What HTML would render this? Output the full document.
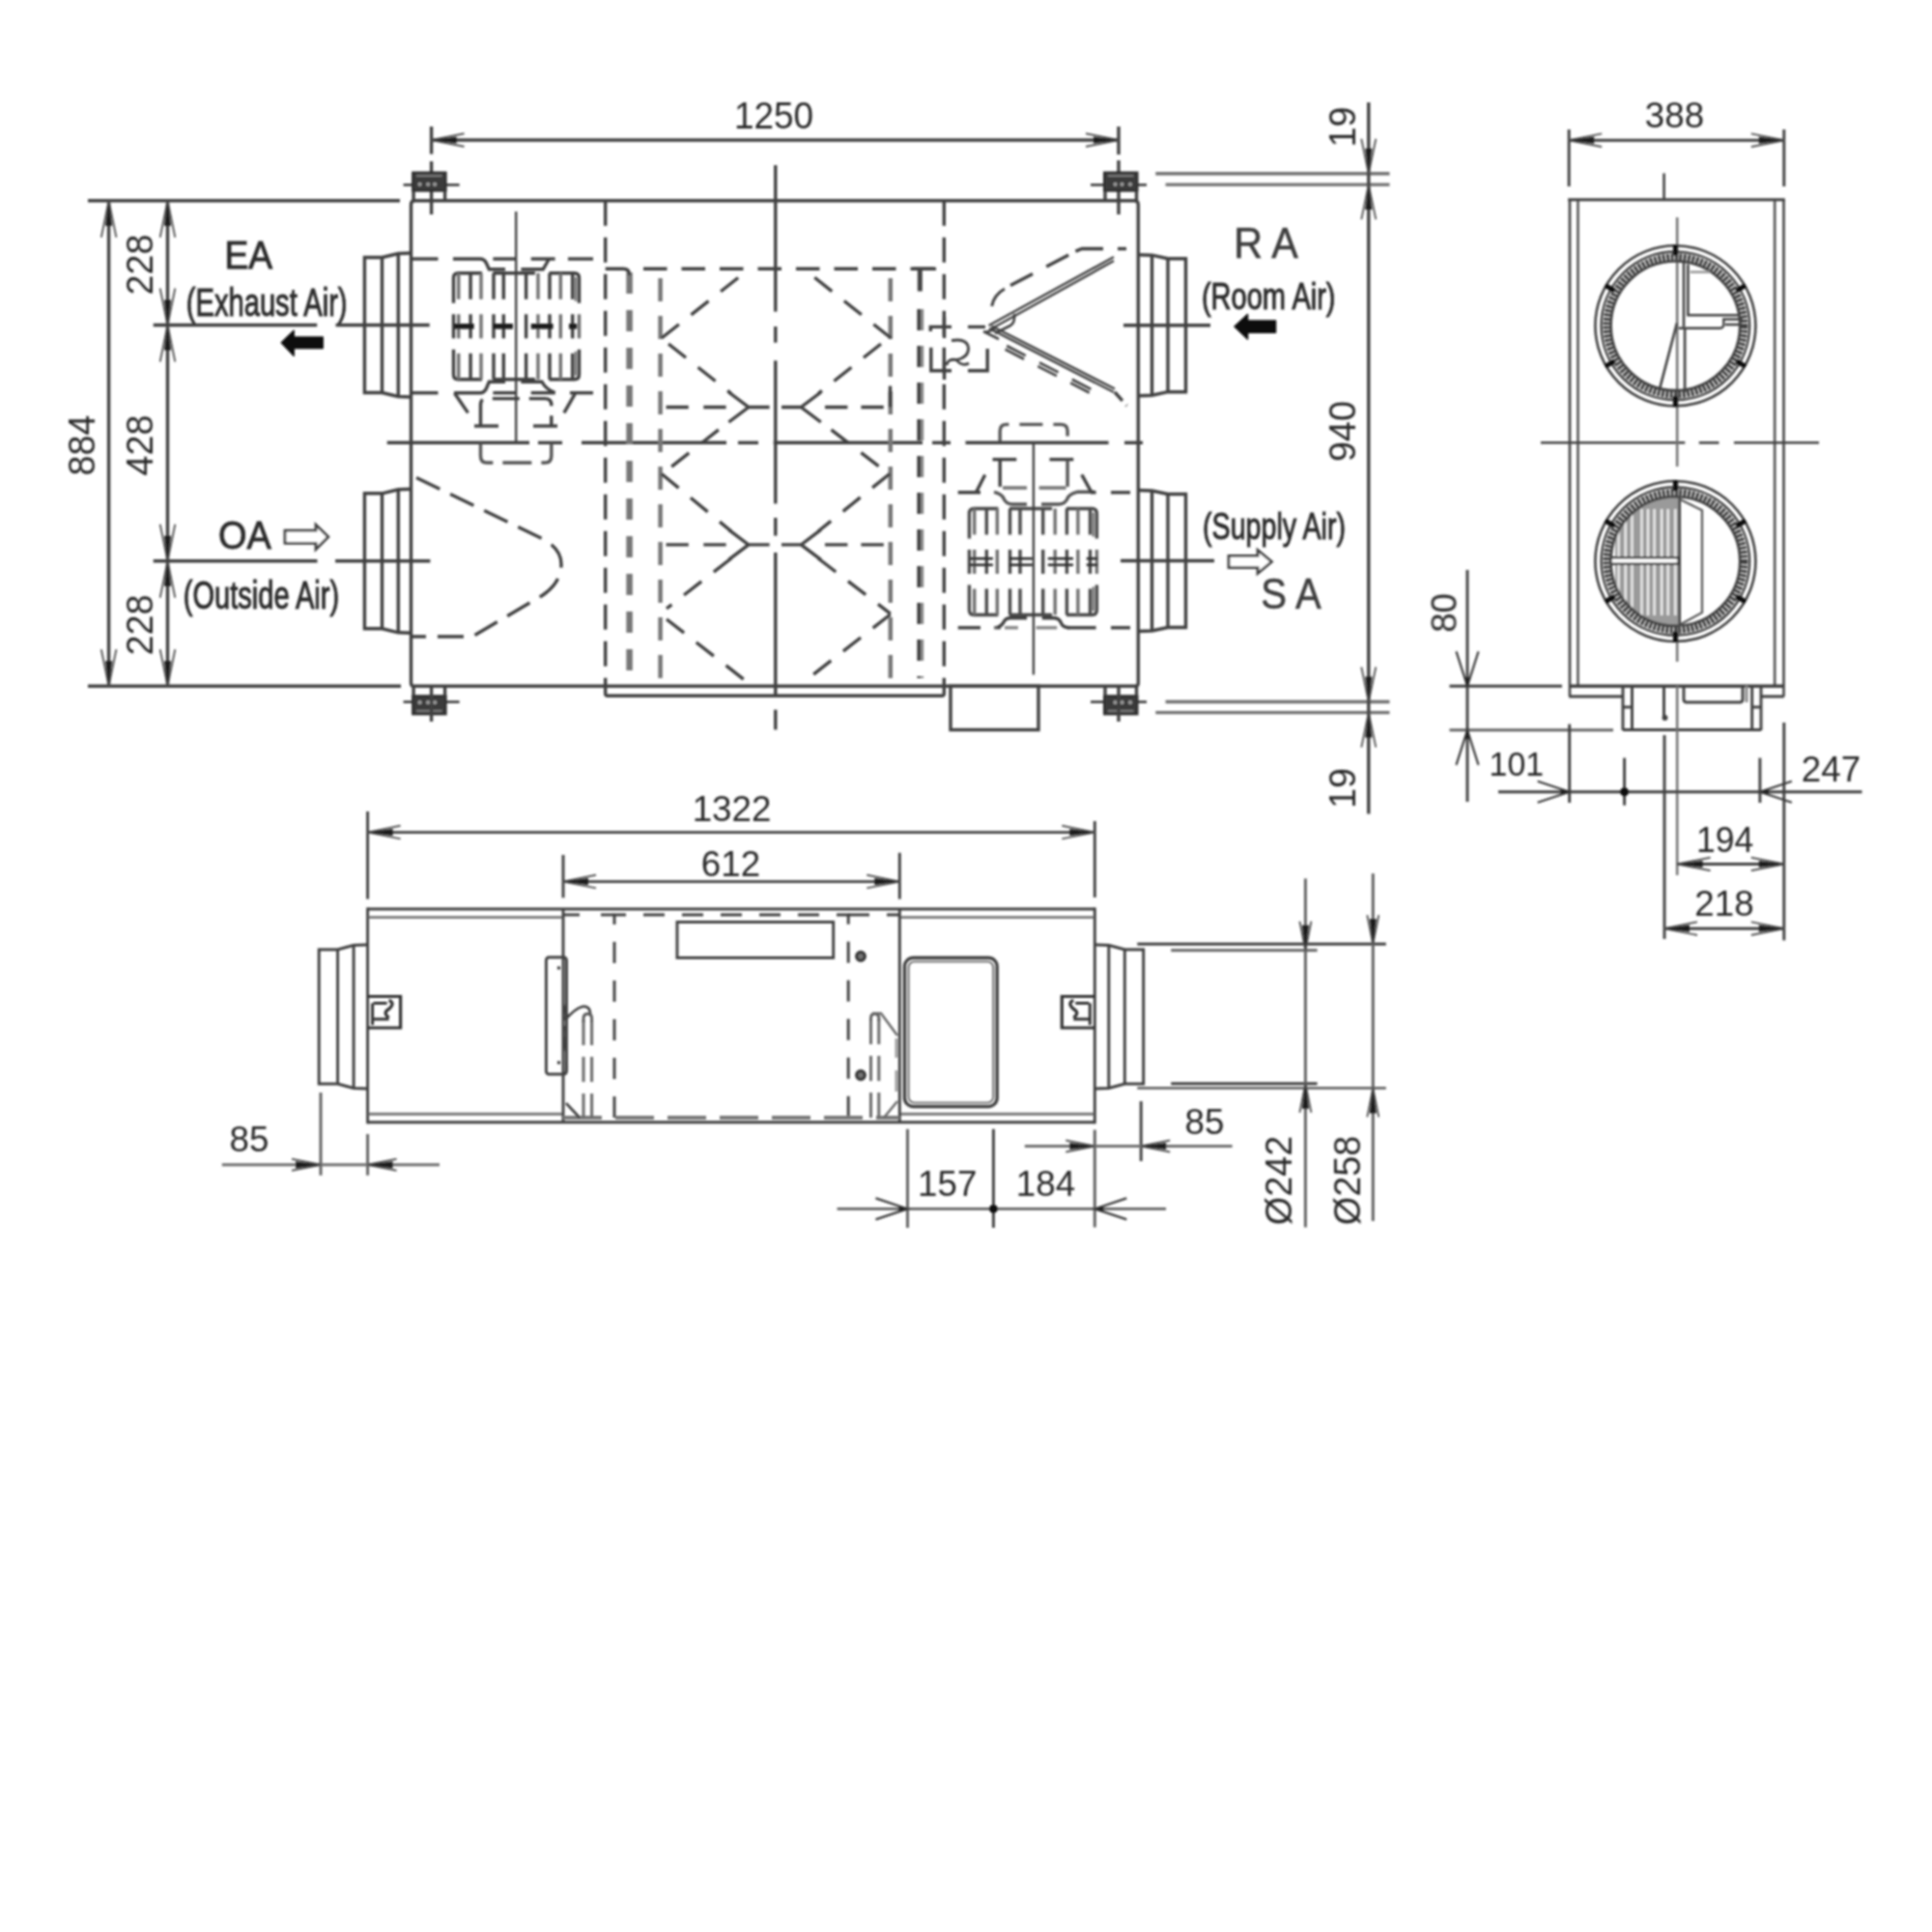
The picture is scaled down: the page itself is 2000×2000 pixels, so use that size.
<!DOCTYPE html>
<html><head><meta charset="utf-8"><title>Dimensions</title>
<style>
html,body{margin:0;padding:0;background:#fff;}
body{width:2000px;height:2000px;overflow:hidden;}
svg{display:block;}
svg text{font-family:"Liberation Sans",sans-serif;stroke:none;}
</style></head><body>
<svg width="2000" height="2000" viewBox="0 0 2000 2000">
<defs><filter id="bl" x="-2%" y="-2%" width="104%" height="104%"><feGaussianBlur stdDeviation="1.3"/></filter></defs>
<rect x="0" y="0" width="2000" height="2000" fill="#ffffff"/>
<g filter="url(#bl)" fill="none" stroke="#404040" stroke-width="3.4" stroke-linecap="butt" stroke-linejoin="miter">
<g>
<path d="M429.5,207.7 H1174.3 Q1178.3,207.7 1178.3,211.7 V707.2 Q1178.3,710.2 1175.3,710.2 H428.5 Q425.5,710.2 425.5,707.2 V211.7 Q425.5,207.7 429.5,207.7 Z"/>
<path d="M626.7,710.2 V718 Q626.7,720.3 629,720.3 H975 Q977.3,720.3 977.3,718 V710.2"/>
<rect x="984.0" y="710.2" width="91.0" height="45.3"/>
<line x1="91.0" y1="207.7" x2="414.0" y2="207.7"/>
<line x1="91.0" y1="710.2" x2="415.0" y2="710.2"/>
<line x1="112.6" y1="207.7" x2="112.6" y2="710.2"/>
<line x1="173.5" y1="207.7" x2="173.5" y2="710.2"/>
<path d="M120.4,245.7 L112.6,207.7 L104.8,245.7" stroke-width="1.9" stroke="#555"/>
<path d="M112.6,207.7 L116.2,233.7 L109.0,233.7 Z" fill="#1c1c1c" stroke="none"/>
<path d="M104.8,672.2 L112.6,710.2 L120.4,672.2" stroke-width="1.9" stroke="#555"/>
<path d="M112.6,710.2 L109.0,684.2 L116.2,684.2 Z" fill="#1c1c1c" stroke="none"/>
<path d="M181.3,245.7 L173.5,207.7 L165.7,245.7" stroke-width="1.9" stroke="#555"/>
<path d="M173.5,207.7 L177.1,233.7 L169.9,233.7 Z" fill="#1c1c1c" stroke="none"/>
<path d="M165.7,672.2 L173.5,710.2 L181.3,672.2" stroke-width="1.9" stroke="#555"/>
<path d="M173.5,710.2 L169.9,684.2 L177.1,684.2 Z" fill="#1c1c1c" stroke="none"/>
<path d="M165.7,298.5 L173.5,336.5 L181.3,298.5" stroke-width="1.9" stroke="#555"/>
<path d="M173.5,336.5 L169.9,310.5 L177.1,310.5 Z" fill="#1c1c1c" stroke="none"/>
<path d="M181.3,374.5 L173.5,336.5 L165.7,374.5" stroke-width="1.9" stroke="#555"/>
<path d="M173.5,336.5 L177.1,362.5 L169.9,362.5 Z" fill="#1c1c1c" stroke="none"/>
<path d="M165.7,542.8 L173.5,580.8 L181.3,542.8" stroke-width="1.9" stroke="#555"/>
<path d="M173.5,580.8 L169.9,554.8 L177.1,554.8 Z" fill="#1c1c1c" stroke="none"/>
<path d="M181.3,618.8 L173.5,580.8 L165.7,618.8" stroke-width="1.9" stroke="#555"/>
<path d="M173.5,580.8 L177.1,606.8 L169.9,606.8 Z" fill="#1c1c1c" stroke="none"/>
<line x1="158.7" y1="336.5" x2="328.2" y2="336.5"/>
<line x1="347.6" y1="336.5" x2="444.7" y2="336.5"/>
<line x1="158.7" y1="580.8" x2="328.5" y2="580.8"/>
<line x1="347.1" y1="580.8" x2="445.4" y2="580.8"/>
<text x="0" y="0" transform="translate(98.0,461.0) rotate(-90) scale(0.98,1)" font-size="38.5" text-anchor="middle" fill="#2a2a2a">884</text>
<text x="0" y="0" transform="translate(158.0,274.0) rotate(-90) scale(0.98,1)" font-size="38.5" text-anchor="middle" fill="#2a2a2a">228</text>
<text x="0" y="0" transform="translate(158.0,461.0) rotate(-90) scale(0.98,1)" font-size="38.5" text-anchor="middle" fill="#2a2a2a">428</text>
<text x="0" y="0" transform="translate(158.0,647.0) rotate(-90) scale(0.98,1)" font-size="38.5" text-anchor="middle" fill="#2a2a2a">228</text>
<line x1="400.7" y1="458.3" x2="548.0" y2="458.3"/>
<line x1="557.0" y1="458.3" x2="582.0" y2="458.3"/>
<line x1="602.0" y1="458.3" x2="752.0" y2="458.3"/>
<line x1="764.0" y1="458.3" x2="785.0" y2="458.3"/>
<line x1="800.7" y1="458.3" x2="955.0" y2="458.3"/>
<line x1="965.0" y1="458.3" x2="984.0" y2="458.3"/>
<line x1="999.5" y1="458.3" x2="1147.6" y2="458.3"/>
<line x1="1164.0" y1="458.3" x2="1183.0" y2="458.3"/>
<line x1="802.8" y1="171.0" x2="802.8" y2="322.6"/>
<line x1="802.8" y1="338.0" x2="802.8" y2="354.7"/>
<line x1="802.8" y1="373.3" x2="802.8" y2="521.4"/>
<line x1="802.8" y1="536.0" x2="802.8" y2="554.6"/>
<line x1="802.8" y1="572.0" x2="802.8" y2="720.0"/>
<line x1="802.8" y1="734.7" x2="802.8" y2="755.4"/>
<line x1="446.6" y1="131.0" x2="446.6" y2="159.5"/>
<line x1="446.6" y1="167.0" x2="446.6" y2="222.0"/>
<line x1="1158.0" y1="131.0" x2="1158.0" y2="160.0"/>
<line x1="1158.0" y1="166.0" x2="1158.0" y2="222.0"/>
<line x1="446.6" y1="145.0" x2="1158.0" y2="145.0"/>
<path d="M480.6,138.2 L446.6,145.0 L480.6,151.8" stroke-width="1.9" stroke="#555"/>
<path d="M446.6,145.0 L472.6,141.4 L472.6,148.6 Z" fill="#1c1c1c" stroke="none"/>
<path d="M1124.0,151.8 L1158.0,145.0 L1124.0,138.2" stroke-width="1.9" stroke="#555"/>
<path d="M1158.0,145.0 L1132.0,148.6 L1132.0,141.4 Z" fill="#1c1c1c" stroke="none"/>
<text x="0" y="0" transform="translate(801.0,132.8) scale(0.96,1)" font-size="38.5" text-anchor="middle" fill="#2a2a2a">1250</text>
<line x1="417.6" y1="191.3" x2="475.6" y2="191.3" stroke-width="2.8" stroke="#444"/>
<rect x="427.1" y="178.5" width="34.5" height="19.1" fill="#3a3a3a" stroke="#2a2a2a" stroke-width="2"/>
<line x1="428.1" y1="197.6" x2="428.1" y2="207.7"/>
<line x1="460.6" y1="197.6" x2="460.6" y2="207.7"/>
<circle cx="434.6" cy="190.8" r="2.1" fill="#9a9a9a" stroke="none"/>
<circle cx="443.1" cy="190.8" r="2.1" fill="#9a9a9a" stroke="none"/>
<circle cx="450.1" cy="190.8" r="2.1" fill="#9a9a9a" stroke="none"/>
<line x1="431.1" y1="182.0" x2="457.6" y2="182.0" stroke-width="2.2" stroke="#777"/>
<line x1="1129.0" y1="191.3" x2="1187.0" y2="191.3" stroke-width="2.8" stroke="#444"/>
<rect x="1143.0" y="178.5" width="34.5" height="19.1" fill="#3a3a3a" stroke="#2a2a2a" stroke-width="2"/>
<line x1="1144.0" y1="197.6" x2="1144.0" y2="207.7"/>
<line x1="1176.5" y1="197.6" x2="1176.5" y2="207.7"/>
<circle cx="1170.0" cy="190.8" r="2.1" fill="#9a9a9a" stroke="none"/>
<circle cx="1161.5" cy="190.8" r="2.1" fill="#9a9a9a" stroke="none"/>
<circle cx="1154.5" cy="190.8" r="2.1" fill="#9a9a9a" stroke="none"/>
<line x1="1147.0" y1="182.0" x2="1173.5" y2="182.0" stroke-width="2.2" stroke="#777"/>
<line x1="417.6" y1="726.7" x2="475.6" y2="726.7" stroke-width="2.8" stroke="#444"/>
<rect x="427.1" y="720.3" width="34.5" height="19.1" fill="#3a3a3a" stroke="#2a2a2a" stroke-width="2"/>
<line x1="428.1" y1="720.3" x2="428.1" y2="710.2"/>
<line x1="460.6" y1="720.3" x2="460.6" y2="710.2"/>
<circle cx="434.6" cy="727.2" r="2.1" fill="#9a9a9a" stroke="none"/>
<circle cx="443.1" cy="727.2" r="2.1" fill="#9a9a9a" stroke="none"/>
<circle cx="450.1" cy="727.2" r="2.1" fill="#9a9a9a" stroke="none"/>
<line x1="431.1" y1="735.9" x2="457.6" y2="735.9" stroke-width="2.2" stroke="#777"/>
<line x1="1129.0" y1="726.7" x2="1187.0" y2="726.7" stroke-width="2.8" stroke="#444"/>
<rect x="1143.0" y="720.3" width="34.5" height="19.1" fill="#3a3a3a" stroke="#2a2a2a" stroke-width="2"/>
<line x1="1144.0" y1="720.3" x2="1144.0" y2="710.2"/>
<line x1="1176.5" y1="720.3" x2="1176.5" y2="710.2"/>
<circle cx="1170.0" cy="727.2" r="2.1" fill="#9a9a9a" stroke="none"/>
<circle cx="1161.5" cy="727.2" r="2.1" fill="#9a9a9a" stroke="none"/>
<circle cx="1154.5" cy="727.2" r="2.1" fill="#9a9a9a" stroke="none"/>
<line x1="1147.0" y1="735.9" x2="1173.5" y2="735.9" stroke-width="2.2" stroke="#777"/>
<line x1="446.6" y1="710.2" x2="446.6" y2="747.0"/>
<line x1="1158.0" y1="710.2" x2="1158.0" y2="747.0"/>
<line x1="626.7" y1="207.7" x2="626.7" y2="710.2" stroke-dasharray="26 12"/>
<line x1="977.3" y1="207.7" x2="977.3" y2="710.2" stroke-dasharray="26 12"/>
<line x1="651.6" y1="282.0" x2="651.6" y2="702.0" stroke-width="6.5" stroke="#777" stroke-dasharray="22 17"/>
<line x1="683.6" y1="288.0" x2="683.6" y2="710.2" stroke-width="4.5" stroke="#777" stroke-dasharray="24 15"/>
<line x1="921.8" y1="288.0" x2="921.8" y2="702.0" stroke-width="4.5" stroke="#777" stroke-dasharray="24 15"/>
<line x1="951.2" y1="320.0" x2="951.2" y2="702.0" stroke-width="3.6" stroke="#3a3a3a" stroke-dasharray="22 16"/>
<line x1="954.6" y1="320.0" x2="954.6" y2="702.0" stroke-width="3.2" stroke="#888" stroke-dasharray="22 16"/>
<path d="M626.7,278.3 H645 Q651.6,278.3 651.6,285"/>
<line x1="666.0" y1="278.3" x2="969.5" y2="278.3" stroke-dasharray="24.5 15"/>
<line x1="945.0" y1="278.3" x2="969.0" y2="278.3"/>
<line x1="952.3" y1="279.5" x2="952.3" y2="301.5" stroke-width="5" stroke="#444"/>
<line x1="684.8" y1="350.0" x2="765.6" y2="286.4" stroke-dasharray="23 16"/>
<line x1="692.0" y1="356.0" x2="757.0" y2="407.5" stroke-dasharray="23 16"/>
<line x1="743.9" y1="444.8" x2="684.5" y2="491.5" stroke-dasharray="23 16"/>
<line x1="684.8" y1="490.5" x2="757.0" y2="550.0" stroke-dasharray="23 16"/>
<line x1="757.0" y1="578.0" x2="690.0" y2="630.0" stroke-dasharray="23 16"/>
<line x1="690.0" y1="641.0" x2="776.0" y2="708.0" stroke-dasharray="23 16"/>
<line x1="922.4" y1="350.0" x2="840.1" y2="284.8" stroke-dasharray="23 16"/>
<line x1="912.0" y1="356.0" x2="847.0" y2="407.5" stroke-dasharray="23 16"/>
<line x1="860.5" y1="444.8" x2="921.0" y2="491.5" stroke-dasharray="23 16"/>
<line x1="921.0" y1="490.5" x2="847.0" y2="550.0" stroke-dasharray="23 16"/>
<line x1="847.0" y1="578.0" x2="921.8" y2="635.3" stroke-dasharray="23 16"/>
<line x1="921.8" y1="636.0" x2="841.0" y2="699.0" stroke-dasharray="23 16"/>
<path d="M754.4,406.0 L774.9,421.5 L754.4,437.0 M774.9,421.5 H796.6"/>
<path d="M849.8,406.0 L829.3,421.5 L849.8,437.0 M829.3,421.5 H809"/>
<line x1="689.5" y1="421.5" x2="753.2" y2="421.5" stroke-dasharray="23.3 15.5"/>
<line x1="854.0" y1="421.5" x2="921.0" y2="421.5" stroke-dasharray="23.4 14"/>
<path d="M754.4,548.4 L774.9,563.9 L754.4,579.4 M774.9,563.9 H796.6"/>
<path d="M849.8,548.4 L829.3,563.9 L849.8,579.4 M829.3,563.9 H809"/>
<line x1="689.5" y1="563.9" x2="753.2" y2="563.9" stroke-dasharray="23.3 15.5"/>
<line x1="854.0" y1="563.9" x2="921.0" y2="563.9" stroke-dasharray="23.4 14"/>
<line x1="921.5" y1="399.5" x2="921.5" y2="421.5"/>
<path d="M425.5,262.0 L412.3,262.5 L395.5,266.5 L377.4,266.5 L377.4,406.5 L395.5,406.5 L412.3,410.5 L425.5,411.0"/>
<line x1="395.5" y1="266.5" x2="395.5" y2="406.5"/>
<line x1="412.3" y1="262.5" x2="412.3" y2="410.5"/>
<path d="M425.5,506.3 L412.3,506.8 L395.5,510.8 L377.4,510.8 L377.4,650.8 L395.5,650.8 L412.3,654.8 L425.5,655.3"/>
<line x1="395.5" y1="510.8" x2="395.5" y2="650.8"/>
<line x1="412.3" y1="506.8" x2="412.3" y2="654.8"/>
<path d="M1178.3,263.7 L1192.5,264.2 L1209.0,267.7 L1227.5,267.7 L1227.5,405.7 L1209.0,405.7 L1192.5,409.2 L1178.3,409.7"/>
<line x1="1209.0" y1="267.7" x2="1209.0" y2="405.7"/>
<line x1="1192.5" y1="264.2" x2="1192.5" y2="409.2"/>
<path d="M1178.3,507.5 L1192.5,508.0 L1209.0,511.5 L1227.5,511.5 L1227.5,649.5 L1209.0,649.5 L1192.5,653.0 L1178.3,653.5"/>
<line x1="1209.0" y1="511.5" x2="1209.0" y2="649.5"/>
<line x1="1192.5" y1="508.0" x2="1192.5" y2="653.0"/>
<line x1="1163.0" y1="336.7" x2="1253.0" y2="336.7"/>
<line x1="1160.0" y1="580.5" x2="1257.0" y2="580.5"/>
<line x1="425.5" y1="268.0" x2="453.5" y2="268.0"/>
<line x1="425.5" y1="406.7" x2="453.5" y2="406.7"/>
<path d="M469,268 H497 Q501.5,268 503.5,272.5 L506.3,278.8 H523"/>
<line x1="510.4" y1="268.0" x2="533.0" y2="268.0"/>
<path d="M539.4,278.8 H562.2 L568.4,268"/>
<line x1="549.7" y1="268.0" x2="574.6" y2="268.0"/>
<line x1="588.0" y1="268.0" x2="614.0" y2="268.0"/>
<path d="M470,406.7 H497 Q501.5,406.7 503.5,402 L506.3,395.3 H523"/>
<line x1="510.4" y1="406.7" x2="533.0" y2="406.7"/>
<path d="M539.4,395.3 H561 Q565,403 574.6,406.7"/>
<line x1="549.7" y1="406.7" x2="574.6" y2="406.7"/>
<line x1="590.0" y1="406.7" x2="614.0" y2="406.7"/>
<line x1="470.5" y1="407.0" x2="484.5" y2="427.4"/>
<line x1="595.3" y1="407.7" x2="583.9" y2="427.4"/>
<path d="M431,494.5 L562,558 Q581,568 581,584 Q581,603 562,616 L489,659 H425.5" stroke-dasharray="27 12"/>
<path d="M469.5,313.8 V287.8 Q469.5,282.8 474.5,282.8 H499.0" stroke="#404040"/>
<path d="M469.5,361.8 V387.8 Q469.5,392.8 474.5,392.8 H499.0" stroke="#404040"/>
<path d="M510.5,282.8 H553.9" stroke="#404040"/>
<path d="M510.5,392.8 H553.9" stroke="#404040"/>
<path d="M568.5,282.8 H594.5 Q599.5,282.8 599.5,287.8 V313.8" stroke="#404040"/>
<path d="M568.5,392.8 H594.5 Q599.5,392.8 599.5,387.8 V361.8" stroke="#404040"/>
<line x1="474.7" y1="282.8" x2="474.7" y2="309.8" stroke="#707070"/>
<line x1="474.7" y1="392.8" x2="474.7" y2="365.8" stroke="#707070"/>
<line x1="474.7" y1="325.3" x2="474.7" y2="350.3" stroke="#707070"/>
<line x1="487.1" y1="282.8" x2="487.1" y2="309.8" stroke="#404040"/>
<line x1="487.1" y1="392.8" x2="487.1" y2="365.8" stroke="#404040"/>
<line x1="487.1" y1="325.3" x2="487.1" y2="350.3" stroke="#404040"/>
<line x1="498.0" y1="282.8" x2="498.0" y2="309.8" stroke="#707070"/>
<line x1="498.0" y1="392.8" x2="498.0" y2="365.8" stroke="#707070"/>
<line x1="498.0" y1="325.3" x2="498.0" y2="350.3" stroke="#707070"/>
<line x1="511.0" y1="282.8" x2="511.0" y2="309.8" stroke="#404040"/>
<line x1="511.0" y1="392.8" x2="511.0" y2="365.8" stroke="#404040"/>
<line x1="511.0" y1="325.3" x2="511.0" y2="350.3" stroke="#404040"/>
<line x1="521.3" y1="282.8" x2="521.3" y2="309.8" stroke="#404040"/>
<line x1="521.3" y1="392.8" x2="521.3" y2="365.8" stroke="#404040"/>
<line x1="521.3" y1="325.3" x2="521.3" y2="350.3" stroke="#404040"/>
<line x1="544.6" y1="282.8" x2="544.6" y2="309.8" stroke="#404040"/>
<line x1="544.6" y1="392.8" x2="544.6" y2="365.8" stroke="#404040"/>
<line x1="544.6" y1="325.3" x2="544.6" y2="350.3" stroke="#404040"/>
<line x1="557.0" y1="282.8" x2="557.0" y2="309.8" stroke="#707070"/>
<line x1="557.0" y1="392.8" x2="557.0" y2="365.8" stroke="#707070"/>
<line x1="557.0" y1="325.3" x2="557.0" y2="350.3" stroke="#707070"/>
<line x1="569.0" y1="282.8" x2="569.0" y2="309.8" stroke="#404040"/>
<line x1="569.0" y1="392.8" x2="569.0" y2="365.8" stroke="#404040"/>
<line x1="569.0" y1="325.3" x2="569.0" y2="350.3" stroke="#404040"/>
<line x1="580.3" y1="282.8" x2="580.3" y2="309.8" stroke="#707070"/>
<line x1="580.3" y1="392.8" x2="580.3" y2="365.8" stroke="#707070"/>
<line x1="580.3" y1="325.3" x2="580.3" y2="350.3" stroke="#707070"/>
<line x1="592.7" y1="282.8" x2="592.7" y2="309.8" stroke="#404040"/>
<line x1="592.7" y1="392.8" x2="592.7" y2="365.8" stroke="#404040"/>
<line x1="592.7" y1="325.3" x2="592.7" y2="350.3" stroke="#404040"/>
<line x1="469.5" y1="325.3" x2="469.5" y2="350.3" stroke="#404040"/>
<line x1="599.5" y1="325.3" x2="599.5" y2="350.3" stroke="#707070"/>
<line x1="596.0" y1="286.8" x2="596.0" y2="311.8" stroke-width="2.4" stroke="#707070"/>
<line x1="596.0" y1="388.8" x2="596.0" y2="363.8" stroke-width="2.4" stroke="#707070"/>
<line x1="470.0" y1="337.8" x2="490.7" y2="337.8" stroke-width="5.5" stroke="#1a1a1a"/>
<line x1="510.5" y1="337.8" x2="531.0" y2="337.8" stroke-width="5.5" stroke="#1a1a1a"/>
<line x1="549.7" y1="337.8" x2="572.5" y2="337.8" stroke-width="5.5" stroke="#1a1a1a"/>
<line x1="589.0" y1="337.8" x2="597.3" y2="337.8" stroke-width="5.5" stroke="#1a1a1a"/>
<path d="M1003.4,557.5 V531.5 Q1003.4,526.5 1008.4,526.5 H1033.4" stroke="#484848"/>
<path d="M1003.4,605.5 V631.5 Q1003.4,636.5 1008.4,636.5 H1033.4" stroke="#484848"/>
<path d="M1045.0,526.5 H1089.1" stroke="#484848"/>
<path d="M1045.0,636.5 H1089.1" stroke="#484848"/>
<path d="M1103.9,526.5 H1130.4 Q1135.4,526.5 1135.4,531.5 V557.5" stroke="#484848"/>
<path d="M1103.9,636.5 H1130.4 Q1135.4,636.5 1135.4,631.5 V605.5" stroke="#484848"/>
<line x1="1008.7" y1="526.5" x2="1008.7" y2="553.5" stroke="#707070"/>
<line x1="1008.7" y1="636.5" x2="1008.7" y2="609.5" stroke="#707070"/>
<line x1="1008.7" y1="569.0" x2="1008.7" y2="594.0" stroke="#707070"/>
<line x1="1021.3" y1="526.5" x2="1021.3" y2="553.5" stroke="#484848"/>
<line x1="1021.3" y1="636.5" x2="1021.3" y2="609.5" stroke="#484848"/>
<line x1="1021.3" y1="569.0" x2="1021.3" y2="594.0" stroke="#484848"/>
<line x1="1032.3" y1="526.5" x2="1032.3" y2="553.5" stroke="#707070"/>
<line x1="1032.3" y1="636.5" x2="1032.3" y2="609.5" stroke="#707070"/>
<line x1="1032.3" y1="569.0" x2="1032.3" y2="594.0" stroke="#707070"/>
<line x1="1045.5" y1="526.5" x2="1045.5" y2="553.5" stroke="#484848"/>
<line x1="1045.5" y1="636.5" x2="1045.5" y2="609.5" stroke="#484848"/>
<line x1="1045.5" y1="569.0" x2="1045.5" y2="594.0" stroke="#484848"/>
<line x1="1056.0" y1="526.5" x2="1056.0" y2="553.5" stroke="#484848"/>
<line x1="1056.0" y1="636.5" x2="1056.0" y2="609.5" stroke="#484848"/>
<line x1="1056.0" y1="569.0" x2="1056.0" y2="594.0" stroke="#484848"/>
<line x1="1079.7" y1="526.5" x2="1079.7" y2="553.5" stroke="#484848"/>
<line x1="1079.7" y1="636.5" x2="1079.7" y2="609.5" stroke="#484848"/>
<line x1="1079.7" y1="569.0" x2="1079.7" y2="594.0" stroke="#484848"/>
<line x1="1092.2" y1="526.5" x2="1092.2" y2="553.5" stroke="#707070"/>
<line x1="1092.2" y1="636.5" x2="1092.2" y2="609.5" stroke="#707070"/>
<line x1="1092.2" y1="569.0" x2="1092.2" y2="594.0" stroke="#707070"/>
<line x1="1104.4" y1="526.5" x2="1104.4" y2="553.5" stroke="#484848"/>
<line x1="1104.4" y1="636.5" x2="1104.4" y2="609.5" stroke="#484848"/>
<line x1="1104.4" y1="569.0" x2="1104.4" y2="594.0" stroke="#484848"/>
<line x1="1115.9" y1="526.5" x2="1115.9" y2="553.5" stroke="#707070"/>
<line x1="1115.9" y1="636.5" x2="1115.9" y2="609.5" stroke="#707070"/>
<line x1="1115.9" y1="569.0" x2="1115.9" y2="594.0" stroke="#707070"/>
<line x1="1128.5" y1="526.5" x2="1128.5" y2="553.5" stroke="#484848"/>
<line x1="1128.5" y1="636.5" x2="1128.5" y2="609.5" stroke="#484848"/>
<line x1="1128.5" y1="569.0" x2="1128.5" y2="594.0" stroke="#484848"/>
<line x1="1003.4" y1="569.0" x2="1003.4" y2="594.0" stroke="#484848"/>
<line x1="1135.4" y1="569.0" x2="1135.4" y2="594.0" stroke="#707070"/>
<line x1="1131.8" y1="530.5" x2="1131.8" y2="555.5" stroke-width="2.4" stroke="#707070"/>
<line x1="1131.8" y1="632.5" x2="1131.8" y2="607.5" stroke-width="2.4" stroke="#707070"/>
<line x1="1003.9" y1="578.2" x2="1027.9" y2="578.2" stroke-width="2.6" stroke="#2a2a2a"/>
<line x1="1003.9" y1="584.8" x2="1027.9" y2="584.8" stroke-width="2.6" stroke="#2a2a2a"/>
<line x1="1045.0" y1="578.2" x2="1068.8" y2="578.2" stroke-width="2.6" stroke="#2a2a2a"/>
<line x1="1045.0" y1="584.8" x2="1068.8" y2="584.8" stroke-width="2.6" stroke="#2a2a2a"/>
<line x1="1084.8" y1="578.2" x2="1111.0" y2="578.2" stroke-width="2.6" stroke="#2a2a2a"/>
<line x1="1084.8" y1="584.8" x2="1111.0" y2="584.8" stroke-width="2.6" stroke="#2a2a2a"/>
<line x1="1124.7" y1="578.2" x2="1136.2" y2="578.2" stroke-width="2.6" stroke="#2a2a2a"/>
<line x1="1124.7" y1="584.8" x2="1136.2" y2="584.8" stroke-width="2.6" stroke="#2a2a2a"/>
<line x1="534.2" y1="219.0" x2="534.2" y2="458.3" stroke-width="2.4"/>
<line x1="1069.9" y1="458.3" x2="1069.9" y2="698.5" stroke-width="2.4"/>
<path d="M497.5,441 V419 Q497.5,412.6 504,412.6 H564 Q570.8,412.6 570.8,419 V441" stroke-dasharray="28 10"/>
<line x1="491.0" y1="441.0" x2="516.0" y2="441.0"/>
<line x1="552.0" y1="441.0" x2="577.0" y2="441.0"/>
<path d="M497.5,459 V472 Q497.5,479 504,479 H564 Q570.8,479 570.8,472 V459" stroke="#555" stroke-dasharray="30 10"/>
<path d="M1035.2,457 V446 Q1035.2,439.4 1042,439.4 H1098 Q1105.1,439.4 1105.1,446 V457" stroke="#555" stroke-dasharray="24 11"/>
<line x1="1027.5" y1="475.6" x2="1052.3" y2="475.6"/>
<line x1="1086.5" y1="475.6" x2="1111.3" y2="475.6"/>
<line x1="1035.2" y1="475.6" x2="1035.2" y2="503.9"/>
<line x1="1105.1" y1="475.6" x2="1105.1" y2="503.9" stroke="#555"/>
<line x1="1038.0" y1="505.0" x2="1063.0" y2="505.0" stroke-width="3.6" stroke="#777"/>
<line x1="1075.6" y1="505.0" x2="1103.5" y2="505.0" stroke-width="3.6" stroke="#777"/>
<path d="M1029,509.3 Q1037,511 1039,516 Q1041,521.5 1048,522 H1063" stroke="#555"/>
<path d="M1133,509.3 H1115 Q1107,511 1105,516 Q1103,521.5 1096,522 H1078" stroke="#555"/>
<path d="M1019.7,491.4 L1010.4,509.8 M991.7,509.8 H1015"/>
<path d="M1119.8,491.4 L1130,509.8 H1134.6"/>
<line x1="1150.0" y1="509.8" x2="1170.0" y2="509.8"/>
<line x1="991.7" y1="649.8" x2="1015.0" y2="649.8"/>
<line x1="1029.0" y1="649.8" x2="1036.0" y2="649.8" stroke="#666"/>
<line x1="1040.0" y1="649.8" x2="1053.9" y2="649.8" stroke="#888"/>
<line x1="1072.5" y1="649.8" x2="1094.2" y2="649.8" stroke="#888"/>
<line x1="1105.0" y1="649.8" x2="1134.6" y2="649.8"/>
<line x1="1150.0" y1="649.8" x2="1170.0" y2="649.8"/>
<path d="M1032,649.8 Q1037,648 1039,644 Q1041,639.7 1046,639.7 H1063"/>
<path d="M1078.7,639.7 H1091 Q1096,639.7 1098,644 Q1100,649.8 1107,649.8"/>
<line x1="1023.5" y1="337.0" x2="1153.0" y2="266.0" stroke-width="2.4"/>
<line x1="1026.0" y1="340.5" x2="1153.0" y2="270.0" stroke-width="2.4"/>
<line x1="1024.0" y1="340.0" x2="1153.0" y2="406.0" stroke-width="2.4"/>
<line x1="1026.5" y1="337.5" x2="1154.0" y2="402.5" stroke-width="2.4"/>
<path d="M1026.7,317 Q1029,305 1040,299" stroke-width="3"/>
<line x1="1046.0" y1="295.5" x2="1113.4" y2="260.1" stroke-dasharray="26 16"/>
<path d="M1113.4,260.1 L1120,257.5 H1142"/>
<line x1="1157.0" y1="257.5" x2="1166.0" y2="257.5"/>
<line x1="1154.0" y1="406.0" x2="1166.4" y2="420.0" stroke-dasharray="12 6"/>
<line x1="1042.2" y1="358.0" x2="1134.0" y2="405.2" stroke-width="2.6" stroke-dasharray="22 16"/>
<line x1="1040.5" y1="361.7" x2="1132.0" y2="408.7" stroke-width="2.6" stroke-dasharray="22 16"/>
<path d="M1050,324.8 Q1051,334 1046,337 L1030,345" stroke-width="2.6"/>
<path d="M1018,343 L1034,351" stroke-width="2.6"/>
<path d="M963.3,343 V338.4 H985 M1002,338.4 H1020"/>
<line x1="977.5" y1="328.0" x2="977.5" y2="350.0"/>
<path d="M963.8,359.8 V383.7 H985 M1002,383.7 H1022.2 V361"/>
<line x1="977.5" y1="374.0" x2="977.5" y2="393.0"/>
<path d="M985,352.5 Q1001,350 1002.5,360 Q1003,370 990,372.5 Q981,371 980,378 M990,372.5 Q996,380 1003,376" stroke-width="2.8"/>
<line x1="1020.0" y1="344.0" x2="1030.0" y2="341.0" stroke-width="2.4"/>
<line x1="1196.3" y1="179.7" x2="1438.5" y2="179.7" stroke="#707070"/>
<line x1="1206.6" y1="191.1" x2="1438.5" y2="191.1" stroke="#707070"/>
<line x1="1206.6" y1="726.5" x2="1438.5" y2="726.5" stroke="#707070"/>
<line x1="1196.3" y1="737.6" x2="1438.5" y2="737.6" stroke="#707070"/>
<line x1="1416.8" y1="106.0" x2="1416.8" y2="842.5"/>
<path d="M1409.3,143.7 L1416.8,179.7 L1424.3,143.7" stroke-width="1.9" stroke="#555"/>
<path d="M1416.8,179.7 L1413.2,153.7 L1420.4,153.7 Z" fill="#1c1c1c" stroke="none"/>
<path d="M1424.3,227.1 L1416.8,191.1 L1409.3,227.1" stroke-width="1.9" stroke="#555"/>
<path d="M1416.8,191.1 L1420.4,217.1 L1413.2,217.1 Z" fill="#1c1c1c" stroke="none"/>
<path d="M1409.3,690.5 L1416.8,726.5 L1424.3,690.5" stroke-width="1.9" stroke="#555"/>
<path d="M1416.8,726.5 L1413.2,700.5 L1420.4,700.5 Z" fill="#1c1c1c" stroke="none"/>
<path d="M1424.3,773.6 L1416.8,737.6 L1409.3,773.6" stroke-width="1.9" stroke="#555"/>
<path d="M1416.8,737.6 L1420.4,763.6 L1413.2,763.6 Z" fill="#1c1c1c" stroke="none"/>
<text x="0" y="0" transform="translate(1403.0,131.6) rotate(-90) scale(0.98,1)" font-size="38.5" text-anchor="middle" fill="#2a2a2a">19</text>
<text x="0" y="0" transform="translate(1403.0,446.5) rotate(-90) scale(0.98,1)" font-size="38.5" text-anchor="middle" fill="#2a2a2a">940</text>
<text x="0" y="0" transform="translate(1403.0,816.0) rotate(-90) scale(0.98,1)" font-size="38.5" text-anchor="middle" fill="#2a2a2a">19</text>
<text x="0" y="0" transform="translate(257.3,277.6) scale(0.92,1)" font-size="40.5" text-anchor="middle" fill="#2a2a2a" stroke="#2a2a2a" stroke-width="0.9" style="stroke:#2a2a2a">EA</text>
<text x="0" y="0" transform="translate(276.2,326.8) scale(0.719,1)" font-size="40.5" text-anchor="middle" fill="#2a2a2a" stroke="#2a2a2a" stroke-width="1.0" style="stroke:#2a2a2a">(Exhaust Air)</text>
<path d="M334.2,349 H304.2 V342.3 L291.3,354.7 L304.2,368.2 V360.4 H334.2 Z" fill="#0a0a0a" stroke="#0a0a0a" stroke-width="1.5" stroke-linejoin="round"/>
<text x="0" y="0" transform="translate(253.5,568.3) scale(0.95,1)" font-size="40" text-anchor="middle" fill="#2a2a2a" stroke="#2a2a2a" stroke-width="0.8" style="stroke:#2a2a2a">OA</text>
<path d="M295,549.2 H327 V543.3 L339.8,555.7 L327,568.5 V562.4 H295 Z" fill="#fff" stroke-width="2.8"/>
<text x="0" y="0" transform="translate(270.5,630.0) scale(0.726,1)" font-size="40" text-anchor="middle" fill="#2a2a2a" stroke="#2a2a2a" stroke-width="1.0" style="stroke:#2a2a2a">(Outside Air)</text>
<text x="0" y="0" transform="translate(1310.5,266.7) scale(0.92,1)" font-size="45" text-anchor="middle" fill="#3c3c3c" stroke="#3c3c3c" stroke-width="0.55" style="stroke:#3c3c3c">R A</text>
<text x="0" y="0" transform="translate(1313.2,319.5) scale(0.754,1)" font-size="38.5" text-anchor="middle" fill="#2a2a2a" stroke="#2a2a2a" stroke-width="1.0" style="stroke:#2a2a2a">(Room Air)</text>
<path d="M1320.5,332 H1291.5 V325.5 L1278,338 L1291.5,351 V344.3 H1320.5 Z" fill="#0a0a0a" stroke="#0a0a0a" stroke-width="1.5" stroke-linejoin="round"/>
<text x="0" y="0" transform="translate(1319.0,557.7) scale(0.725,1)" font-size="39.5" text-anchor="middle" fill="#2a2a2a" stroke="#2a2a2a" stroke-width="1.0" style="stroke:#2a2a2a">(Supply Air)</text>
<path d="M1272,575.3 H1302 V569.5 L1316.4,581.5 L1302,593.5 V587.7 H1272 Z" fill="#fff" stroke-width="2.8"/>
<text x="0" y="0" transform="translate(1336.5,630.1) scale(0.89,1)" font-size="45" text-anchor="middle" fill="#3c3c3c" stroke="#3c3c3c" stroke-width="0.55" style="stroke:#3c3c3c">S A</text>
</g>
<g stroke-width="2.9" stroke="#404040">
<line x1="1623.2" y1="206.7" x2="1847.8" y2="206.7" stroke-width="3"/>
<line x1="1625.0" y1="206.7" x2="1625.0" y2="721.0" stroke-width="2.6" stroke="#444"/>
<line x1="1846.5" y1="206.7" x2="1846.5" y2="721.0" stroke-width="2.6" stroke="#444"/>
<line x1="1633.5" y1="208.0" x2="1633.5" y2="710.0" stroke-width="2.6" stroke="#555"/>
<line x1="1837.2" y1="208.0" x2="1837.2" y2="710.0" stroke-width="2.6" stroke="#555"/>
<line x1="1624.2" y1="710.2" x2="1846.8" y2="710.2" stroke-width="3.4"/>
<path d="M1624.2,721 H1680 M1823,721 H1846.8"/>
<path d="M1680,710 V756 M1689.5,710 V756 M1813.7,710 V756 M1823,710 V756"/>
<line x1="1680.0" y1="755.5" x2="1823.0" y2="755.5"/>
<path d="M1743,710 V724 Q1743,727 1746,727 H1801 Q1804,727 1804,724 V710"/>
<line x1="1808.0" y1="710.0" x2="1808.0" y2="727.0" stroke="#888"/>
<line x1="1722.5" y1="710.0" x2="1722.5" y2="742.0"/>
<circle cx="1723.5" cy="743.0" r="1.5" fill="#333"/>
<line x1="1680.0" y1="732.0" x2="1689.5" y2="732.0"/>
<line x1="1813.7" y1="732.0" x2="1823.0" y2="732.0"/>
<line x1="1722.6" y1="179.4" x2="1722.6" y2="206.7" stroke-width="2.6"/>
<line x1="1624.2" y1="134.0" x2="1624.2" y2="193.0"/>
<line x1="1846.8" y1="134.0" x2="1846.8" y2="193.0"/>
<line x1="1624.2" y1="145.2" x2="1846.8" y2="145.2"/>
<path d="M1658.2,138.4 L1624.2,145.2 L1658.2,152.0" stroke-width="1.9" stroke="#555"/>
<path d="M1624.2,145.2 L1650.2,141.6 L1650.2,148.8 Z" fill="#1c1c1c" stroke="none"/>
<path d="M1812.8,152.0 L1846.8,145.2 L1812.8,138.4" stroke-width="1.9" stroke="#555"/>
<path d="M1846.8,145.2 L1820.8,148.8 L1820.8,141.6 Z" fill="#1c1c1c" stroke="none"/>
<text x="0" y="0" transform="translate(1733.5,132.0) scale(0.98,1)" font-size="37.5" text-anchor="middle" fill="#2a2a2a">388</text>
<line x1="1595.0" y1="458.3" x2="1744.3" y2="458.3" stroke-width="2.6"/>
<line x1="1758.8" y1="458.3" x2="1779.5" y2="458.3" stroke-width="2.6"/>
<line x1="1795.0" y1="458.3" x2="1883.0" y2="458.3" stroke-width="2.6"/>
<line x1="1736.2" y1="225.0" x2="1736.2" y2="483.0" stroke-width="2.5" stroke="#707070"/>
<line x1="1736.2" y1="497.0" x2="1736.2" y2="664.0" stroke-width="2.5" stroke="#707070"/>
<line x1="1736.2" y1="663.0" x2="1736.2" y2="685.0" stroke-width="2.5" stroke="#707070"/>
<line x1="1736.2" y1="710.0" x2="1736.2" y2="906.0" stroke-width="2.5" stroke="#707070"/>
<clipPath id="fc"><circle cx="1734.4" cy="581" r="66"/></clipPath>
<g clip-path="url(#fc)">
<rect x="1672.0" y="500.0" width="66.7" height="160.0" fill="#9a9a9a" stroke="none"/>
<line x1="1675.6" y1="527.0" x2="1675.6" y2="637.0" stroke-width="2.2" stroke="#f4f4f4"/>
<line x1="1682.7" y1="527.0" x2="1682.7" y2="637.0" stroke-width="2.2" stroke="#f4f4f4"/>
<line x1="1689.5" y1="527.0" x2="1689.5" y2="637.0" stroke-width="2.2" stroke="#f4f4f4"/>
<line x1="1699.5" y1="527.0" x2="1699.5" y2="637.0" stroke-width="2.2" stroke="#f4f4f4"/>
<line x1="1706.0" y1="527.0" x2="1706.0" y2="637.0" stroke-width="2.2" stroke="#f4f4f4"/>
<line x1="1712.6" y1="527.0" x2="1712.6" y2="637.0" stroke-width="2.2" stroke="#f4f4f4"/>
<line x1="1720.2" y1="527.0" x2="1720.2" y2="637.0" stroke-width="2.2" stroke="#f4f4f4"/>
<line x1="1726.7" y1="527.0" x2="1726.7" y2="637.0" stroke-width="2.2" stroke="#f4f4f4"/>
<line x1="1734.3" y1="527.0" x2="1734.3" y2="637.0" stroke-width="2.2" stroke="#f4f4f4"/>
<rect x="1660.0" y="577.2" width="77.5" height="6.6" fill="#fff" stroke="#333" stroke-width="2.4"/>
</g>
<line x1="1738.7" y1="514.0" x2="1738.7" y2="648.0" stroke-width="2.6"/>
<path d="M1738.7,516.8 L1762,528.3 V634.2 L1738.7,646.7" stroke-width="2.2" stroke="#555"/>
<circle cx="1734.4" cy="337.3" r="83.0" stroke-width="2.6"/>
<circle cx="1734.4" cy="337.3" r="76.8" stroke-width="2.4"/>
<circle cx="1734.4" cy="337.3" r="71.2" stroke-width="7.4" stroke="#404040" stroke-dasharray="3.1 1.3"/>
<circle cx="1734.4" cy="337.3" r="66.8" stroke-width="2.6"/>
<line x1="1734.4" y1="264.3" x2="1734.4" y2="253.3" stroke-width="5" stroke="#101010"/>
<line x1="1734.4" y1="410.3" x2="1734.4" y2="421.3" stroke-width="5" stroke="#101010"/>
<line x1="1797.6" y1="300.8" x2="1807.1" y2="295.3" stroke-width="5" stroke="#101010"/>
<line x1="1671.2" y1="300.8" x2="1661.7" y2="295.3" stroke-width="5" stroke="#101010"/>
<line x1="1671.2" y1="373.8" x2="1661.7" y2="379.3" stroke-width="5" stroke="#101010"/>
<line x1="1797.6" y1="373.8" x2="1807.1" y2="379.3" stroke-width="5" stroke="#101010"/>
<circle cx="1734.4" cy="581.0" r="83.0" stroke-width="2.6"/>
<circle cx="1734.4" cy="581.0" r="76.8" stroke-width="2.4"/>
<circle cx="1734.4" cy="581.0" r="71.2" stroke-width="7.4" stroke="#404040" stroke-dasharray="3.1 1.3"/>
<circle cx="1734.4" cy="581.0" r="66.8" stroke-width="2.6"/>
<line x1="1734.4" y1="508.0" x2="1734.4" y2="497.0" stroke-width="5" stroke="#101010"/>
<line x1="1734.4" y1="654.0" x2="1734.4" y2="665.0" stroke-width="5" stroke="#101010"/>
<line x1="1797.6" y1="544.5" x2="1807.1" y2="539.0" stroke-width="5" stroke="#101010"/>
<line x1="1671.2" y1="544.5" x2="1661.7" y2="539.0" stroke-width="5" stroke="#101010"/>
<line x1="1671.2" y1="617.5" x2="1661.7" y2="623.0" stroke-width="5" stroke="#101010"/>
<line x1="1797.6" y1="617.5" x2="1807.1" y2="623.0" stroke-width="5" stroke="#101010"/>
<path d="M1743,269 V338.7 M1747.4,273.5 V326.2 H1799.6" stroke-width="2.6"/>
<line x1="1749.6" y1="281.6" x2="1770.2" y2="281.6" stroke-width="2.6" stroke="#999"/>
<path d="M1737.6,339.8 H1780 Q1783.5,339.8 1784.3,337 V330.5 H1803.9 M1786,336 H1803.9" stroke-width="2.4"/>
<line x1="1736.0" y1="334.3" x2="1718.0" y2="402.8" stroke-width="2.6"/>
<line x1="1744.1" y1="339.8" x2="1744.1" y2="406.1" stroke-width="2.6"/>
<line x1="1500.5" y1="710.3" x2="1617.0" y2="710.3"/>
<line x1="1500.5" y1="755.8" x2="1670.0" y2="755.8" stroke="#666"/>
<line x1="1519.0" y1="590.0" x2="1519.0" y2="830.0"/>
<path d="M1507.5,674.3 L1519.0,710.3 L1530.5,674.3" stroke-width="2.2" stroke="#3a3a3a"/>
<path d="M1519.0,710.3 L1516.8,701.3 L1521.2,701.3 Z" fill="#1c1c1c" stroke="none"/>
<path d="M1530.5,791.8 L1519.0,755.8 L1507.5,791.8" stroke-width="2.2" stroke="#3a3a3a"/>
<path d="M1519.0,755.8 L1521.2,764.8 L1516.8,764.8 Z" fill="#1c1c1c" stroke="none"/>
<text x="0" y="0" transform="translate(1507.5,634.5) rotate(-90) scale(0.98,1)" font-size="37.5" text-anchor="middle" fill="#2a2a2a">80</text>
<line x1="1551.0" y1="819.8" x2="1927.5" y2="819.8"/>
<line x1="1624.7" y1="749.6" x2="1624.7" y2="831.0"/>
<line x1="1681.6" y1="784.6" x2="1681.6" y2="833.7"/>
<circle cx="1681.6" cy="819.8" r="4.5" fill="#111" stroke="none"/>
<line x1="1723.0" y1="761.0" x2="1723.0" y2="972.0"/>
<line x1="1736.6" y1="906.0" x2="1736.6" y2="906.0"/>
<line x1="1821.9" y1="784.6" x2="1821.9" y2="831.0"/>
<line x1="1846.8" y1="748.0" x2="1846.8" y2="973.5"/>
<path d="M1591.7,830.8 L1624.7,819.8 L1591.7,808.8" stroke-width="2.2" stroke="#3a3a3a"/>
<path d="M1624.7,819.8 L1615.7,822.0 L1615.7,817.6 Z" fill="#1c1c1c" stroke="none"/>
<path d="M1854.9,808.8 L1821.9,819.8 L1854.9,830.8" stroke-width="2.2" stroke="#3a3a3a"/>
<path d="M1821.9,819.8 L1830.9,817.6 L1830.9,822.0 Z" fill="#1c1c1c" stroke="none"/>
<text x="0" y="0" transform="translate(1569.9,803.2) scale(0.97,1)" font-size="35" text-anchor="middle" fill="#2a2a2a">101</text>
<text x="0" y="0" transform="translate(1895.5,808.8) scale(0.98,1)" font-size="37.5" text-anchor="middle" fill="#2a2a2a">247</text>
<line x1="1736.6" y1="894.5" x2="1846.8" y2="894.5"/>
<path d="M1770.6,887.7 L1736.6,894.5 L1770.6,901.3" stroke-width="1.9" stroke="#555"/>
<path d="M1736.6,894.5 L1762.6,890.9 L1762.6,898.1 Z" fill="#1c1c1c" stroke="none"/>
<path d="M1812.8,901.3 L1846.8,894.5 L1812.8,887.7" stroke-width="1.9" stroke="#555"/>
<path d="M1846.8,894.5 L1820.8,898.1 L1820.8,890.9 Z" fill="#1c1c1c" stroke="none"/>
<text x="0" y="0" transform="translate(1785.5,882.3) scale(0.96,1)" font-size="37" text-anchor="middle" fill="#2a2a2a">194</text>
<line x1="1723.0" y1="961.2" x2="1846.8" y2="961.2"/>
<path d="M1757.0,954.4 L1723.0,961.2 L1757.0,968.0" stroke-width="1.9" stroke="#555"/>
<path d="M1723.0,961.2 L1749.0,957.6 L1749.0,964.8 Z" fill="#1c1c1c" stroke="none"/>
<path d="M1812.8,968.0 L1846.8,961.2 L1812.8,954.4" stroke-width="1.9" stroke="#555"/>
<path d="M1846.8,961.2 L1820.8,964.8 L1820.8,957.6 Z" fill="#1c1c1c" stroke="none"/>
<text x="0" y="0" transform="translate(1785.0,948.3) scale(0.98,1)" font-size="37.5" text-anchor="middle" fill="#2a2a2a">218</text>
</g>
<g stroke-width="2.9" stroke="#404040">
<line x1="380.6" y1="941.0" x2="1133.3" y2="941.0"/>
<line x1="380.6" y1="1161.8" x2="1133.3" y2="1161.8"/>
<line x1="380.6" y1="939.5" x2="380.6" y2="1163.3"/>
<line x1="1133.3" y1="939.5" x2="1133.3" y2="1163.3"/>
<line x1="381.6" y1="949.6" x2="583.0" y2="949.6" stroke="#777"/>
<line x1="381.6" y1="1153.3" x2="583.0" y2="1153.3" stroke="#777"/>
<line x1="931.3" y1="949.6" x2="1132.3" y2="949.6" stroke="#777"/>
<line x1="931.3" y1="1153.3" x2="1132.3" y2="1153.3" stroke="#777"/>
<line x1="583.0" y1="941.0" x2="583.0" y2="1161.8"/>
<line x1="931.3" y1="941.0" x2="931.3" y2="1161.8"/>
<path d="M380.6,978.0 L366.1,978.5 L349.6,983.0 L330.2,983.0 L330.2,1122.0 L349.6,1122.0 L366.1,1126.5 L380.6,1127.0"/>
<line x1="366.1" y1="978.5" x2="366.1" y2="1126.5"/>
<line x1="349.6" y1="983.0" x2="349.6" y2="1122.0"/>
<path d="M1133.3,978.0 L1147.8,978.5 L1164.3,983.0 L1183.7,983.0 L1183.7,1122.0 L1164.3,1122.0 L1147.8,1126.5 L1133.3,1127.0"/>
<line x1="1147.8" y1="978.5" x2="1147.8" y2="1126.5"/>
<line x1="1164.3" y1="983.0" x2="1164.3" y2="1122.0"/>
<path d="M380.6,1031.5 H414.6 V1064 H380.6" stroke-width="3.2" stroke="#333"/>
<path d="M386.6,1038.5 H400.6 M386.6,1055 H402.6 M402.6,1035.5 q7,3 0,9 q-7,4 0,9" stroke-width="3.2" stroke="#333"/>
<line x1="385.6" y1="1038.5" x2="385.6" y2="1061.0" stroke-width="3" stroke="#333"/>
<path d="M1133.3,1031.5 H1099.3 V1064 H1133.3" stroke-width="3.2" stroke="#333"/>
<path d="M1127.3,1038.5 H1113.3 M1127.3,1055 H1111.3 M1111.3,1035.5 q-7,3 0,9 q7,4 0,9" stroke-width="3.2" stroke="#333"/>
<line x1="1128.3" y1="1038.5" x2="1128.3" y2="1061.0" stroke-width="3" stroke="#333"/>
<rect x="565.4" y="991.0" width="21.1" height="121.0" rx="3"/>
<circle cx="578.5" cy="1002.0" r="1.8" fill="#333" stroke="none"/>
<circle cx="578.5" cy="1100.0" r="1.8" fill="#333" stroke="none"/>
<path d="M583,1040 q4,8 2,16 q10,-12 18,-14 q8,-1 8,8 M584,1062 q-2,14 2,26 M586,1100 q2,6 -1,12" stroke-width="2.6"/>
<path d="M636,1157 V947 H878.2 V1157" stroke-dasharray="22 18"/>
<line x1="583.0" y1="1157.0" x2="931.0" y2="1157.0" stroke-width="4" stroke="#777" stroke-dasharray="40 14"/>
<line x1="583.0" y1="947.0" x2="600.0" y2="947.0"/>
<line x1="622.0" y1="947.0" x2="636.0" y2="947.0"/>
<line x1="878.0" y1="947.0" x2="931.0" y2="947.0" stroke-dasharray="22 18"/>
<line x1="604.0" y1="1056.0" x2="604.0" y2="1157.0" stroke-width="3" stroke="#6a6a6a" stroke-dasharray="26 12"/>
<line x1="612.6" y1="1056.0" x2="612.6" y2="1157.0" stroke-width="3" stroke="#6a6a6a" stroke-dasharray="26 12"/>
<path d="M604,1058 V1054.5 Q604,1049.5 608.3,1049.5 Q612.6,1049.5 612.6,1054.5 V1058" stroke-width="2.8" stroke="#5a5a5a"/>
<line x1="901.5" y1="1055.0" x2="901.5" y2="1157.0" stroke-width="3" stroke="#6a6a6a" stroke-dasharray="26 12"/>
<line x1="909.8" y1="1055.0" x2="909.8" y2="1157.0" stroke-width="3" stroke="#6a6a6a" stroke-dasharray="26 12"/>
<path d="M901.5,1057 V1054 Q901.5,1049.5 905.6,1049.5 Q909.8,1049.5 909.8,1054 V1057" stroke-width="2.8" stroke="#5a5a5a"/>
<path d="M586,1142 L600,1157" stroke-width="2.6"/>
<path d="M903,1049 H912 L929,1072 M929,1140 L915,1157" stroke-width="2.4" stroke="#666"/>
<line x1="928.0" y1="1075.0" x2="928.0" y2="1095.0" stroke="#999"/>
<line x1="928.0" y1="1108.0" x2="928.0" y2="1130.0" stroke="#999"/>
<rect x="701.0" y="954.5" width="161.7" height="37.0"/>
<circle cx="891.0" cy="990.0" r="4.3" stroke-width="3.2" fill="#777" stroke="#333"/>
<circle cx="891.0" cy="1113.0" r="4.3" stroke-width="3.2" fill="#777" stroke="#333"/>
<rect x="936.4" y="991.5" width="95.8" height="154.0" rx="9" stroke-width="3.4"/>
<rect x="940.5" y="995.5" width="87.7" height="146.0" rx="6" stroke-width="2.2" stroke="#777"/>
<line x1="380.6" y1="840.0" x2="380.6" y2="930.7"/>
<line x1="1133.3" y1="850.0" x2="1133.3" y2="929.0"/>
<line x1="380.6" y1="861.6" x2="1133.3" y2="861.6"/>
<path d="M414.6,854.8 L380.6,861.6 L414.6,868.4" stroke-width="1.9" stroke="#555"/>
<path d="M380.6,861.6 L406.6,858.0 L406.6,865.2 Z" fill="#1c1c1c" stroke="none"/>
<path d="M1099.3,868.4 L1133.3,861.6 L1099.3,854.8" stroke-width="1.9" stroke="#555"/>
<path d="M1133.3,861.6 L1107.3,865.2 L1107.3,858.0 Z" fill="#1c1c1c" stroke="none"/>
<text x="0" y="0" transform="translate(757.5,850.0) scale(0.98,1)" font-size="37.5" text-anchor="middle" fill="#2a2a2a">1322</text>
<line x1="583.0" y1="885.0" x2="583.0" y2="929.4"/>
<line x1="931.3" y1="882.8" x2="931.3" y2="930.7"/>
<line x1="583.0" y1="912.6" x2="931.3" y2="912.6"/>
<path d="M617.0,905.8 L583.0,912.6 L617.0,919.4" stroke-width="1.9" stroke="#555"/>
<path d="M583.0,912.6 L609.0,909.0 L609.0,916.2 Z" fill="#1c1c1c" stroke="none"/>
<path d="M897.3,919.4 L931.3,912.6 L897.3,905.8" stroke-width="1.9" stroke="#555"/>
<path d="M931.3,912.6 L905.3,916.2 L905.3,909.0 Z" fill="#1c1c1c" stroke="none"/>
<text x="0" y="0" transform="translate(756.5,906.5) scale(0.98,1)" font-size="37.5" text-anchor="middle" fill="#2a2a2a">612</text>
<line x1="332.0" y1="1131.0" x2="332.0" y2="1216.7" stroke="#606060"/>
<line x1="380.6" y1="1174.0" x2="380.6" y2="1216.7" stroke="#606060"/>
<line x1="229.8" y1="1205.8" x2="455.0" y2="1205.8" stroke="#707070"/>
<path d="M302.0,1211.8 L332.0,1205.8 L302.0,1199.8" stroke-width="1.9" stroke="#555"/>
<path d="M332.0,1205.8 L306.0,1209.4 L306.0,1202.2 Z" fill="#1c1c1c" stroke="none"/>
<path d="M410.6,1199.8 L380.6,1205.8 L410.6,1211.8" stroke-width="1.9" stroke="#555"/>
<path d="M380.6,1205.8 L406.6,1202.2 L406.6,1209.4 Z" fill="#1c1c1c" stroke="none"/>
<text x="0" y="0" transform="translate(258.0,1192.0) scale(0.98,1)" font-size="37.5" text-anchor="middle" fill="#2a2a2a">85</text>
<line x1="939.5" y1="1168.8" x2="939.5" y2="1271.0" stroke="#606060"/>
<line x1="1028.4" y1="1168.8" x2="1028.4" y2="1271.0"/>
<line x1="1133.3" y1="1169.6" x2="1133.3" y2="1270.5" stroke="#606060"/>
<line x1="866.6" y1="1251.4" x2="1207.0" y2="1251.4" stroke="#606060"/>
<circle cx="1028.4" cy="1251.4" r="4.5" fill="#111" stroke="none"/>
<path d="M906.5,1262.4 L939.5,1251.4 L906.5,1240.4" stroke-width="2.2" stroke="#3a3a3a"/>
<path d="M939.5,1251.4 L930.5,1253.6 L930.5,1249.2 Z" fill="#1c1c1c" stroke="none"/>
<path d="M1166.3,1240.4 L1133.3,1251.4 L1166.3,1262.4" stroke-width="2.2" stroke="#3a3a3a"/>
<path d="M1133.3,1251.4 L1142.3,1249.2 L1142.3,1253.6 Z" fill="#1c1c1c" stroke="none"/>
<text x="0" y="0" transform="translate(980.7,1238.0) scale(0.98,1)" font-size="37.5" text-anchor="middle" fill="#2a2a2a">157</text>
<text x="0" y="0" transform="translate(1082.5,1238.0) scale(0.98,1)" font-size="37.5" text-anchor="middle" fill="#2a2a2a">184</text>
<line x1="1181.2" y1="1140.0" x2="1181.2" y2="1202.0"/>
<line x1="1060.8" y1="1186.5" x2="1275.6" y2="1186.5" stroke="#707070"/>
<path d="M1103.3,1192.5 L1133.3,1186.5 L1103.3,1180.5" stroke-width="1.9" stroke="#555"/>
<path d="M1133.3,1186.5 L1107.3,1190.1 L1107.3,1182.9 Z" fill="#1c1c1c" stroke="none"/>
<path d="M1211.2,1180.5 L1181.2,1186.5 L1211.2,1192.5" stroke-width="1.9" stroke="#555"/>
<path d="M1181.2,1186.5 L1207.2,1182.9 L1207.2,1190.1 Z" fill="#1c1c1c" stroke="none"/>
<text x="0" y="0" transform="translate(1247.0,1174.0) scale(0.98,1)" font-size="37.5" text-anchor="middle" fill="#2a2a2a">85</text>
<line x1="1177.3" y1="977.3" x2="1434.8" y2="977.3"/>
<line x1="1177.3" y1="1126.4" x2="1434.8" y2="1126.4" stroke="#666"/>
<line x1="1212.2" y1="983.8" x2="1363.6" y2="983.8" stroke="#666"/>
<line x1="1212.2" y1="1121.7" x2="1363.6" y2="1121.7"/>
<line x1="1351.4" y1="909.5" x2="1351.4" y2="1270.5" stroke="#606060"/>
<line x1="1421.3" y1="904.3" x2="1421.3" y2="1264.0" stroke="#606060"/>
<path d="M1345.4,953.8 L1351.4,983.8 L1357.4,953.8" stroke-width="1.9" stroke="#555"/>
<path d="M1351.4,983.8 L1347.8,957.8 L1355.0,957.8 Z" fill="#1c1c1c" stroke="none"/>
<path d="M1357.4,1151.7 L1351.4,1121.7 L1345.4,1151.7" stroke-width="1.9" stroke="#555"/>
<path d="M1351.4,1121.7 L1355.0,1147.7 L1347.8,1147.7 Z" fill="#1c1c1c" stroke="none"/>
<path d="M1415.3,947.3 L1421.3,977.3 L1427.3,947.3" stroke-width="1.9" stroke="#555"/>
<path d="M1421.3,977.3 L1417.7,951.3 L1424.9,951.3 Z" fill="#1c1c1c" stroke="none"/>
<path d="M1427.3,1156.4 L1421.3,1126.4 L1415.3,1156.4" stroke-width="1.9" stroke="#555"/>
<path d="M1421.3,1126.4 L1424.9,1152.4 L1417.7,1152.4 Z" fill="#1c1c1c" stroke="none"/>
<text x="0" y="0" transform="translate(1337.0,1222.0) rotate(-90) scale(0.98,1)" font-size="38.5" text-anchor="middle" fill="#2a2a2a">Ø242</text>
<text x="0" y="0" transform="translate(1408.0,1222.0) rotate(-90) scale(0.98,1)" font-size="38.5" text-anchor="middle" fill="#2a2a2a">Ø258</text>
</g>
</g>
</svg>
</body></html>
